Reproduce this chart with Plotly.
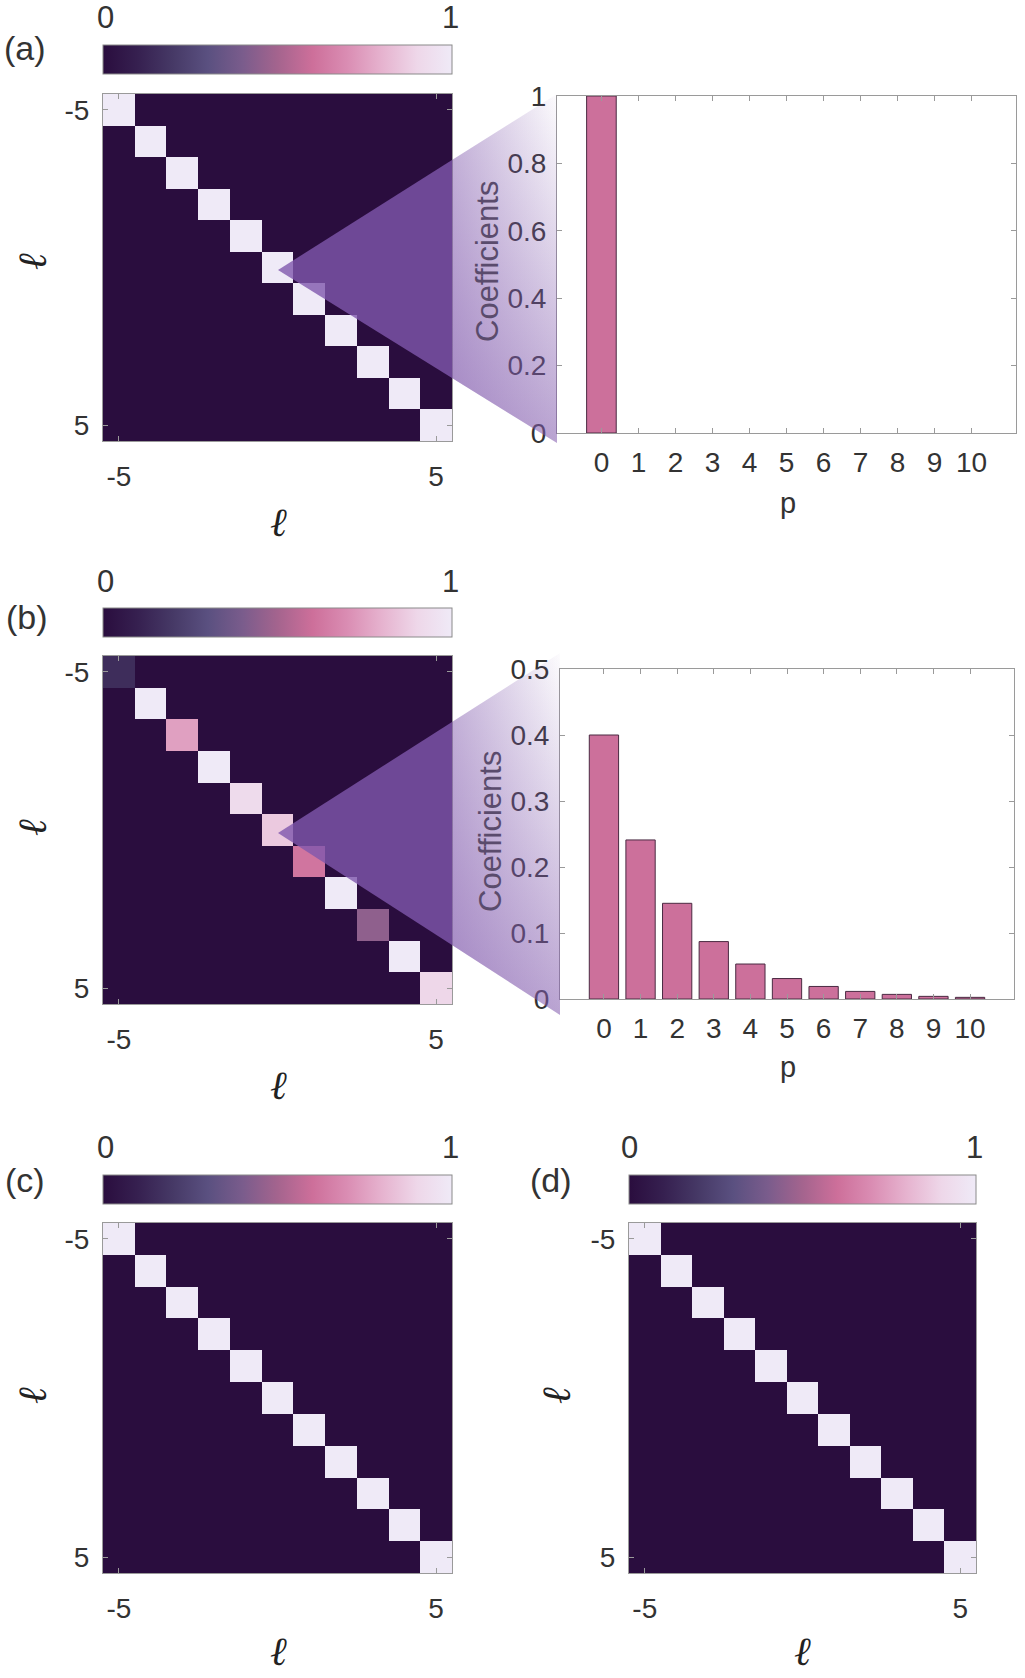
import plotly.graph_objects as go

W, H = 1025, 1678

# ---------------- data ----------------
ell = [-5, -4, -3, -2, -1, 0, 1, 2, 3, 4, 5]
ell_ticks = [-5, 5]
ell_ticktext = ["-5", "5"]

diag_a = [1.0, 1.0, 1.0, 1.0, 1.0, 1.0, 1.0, 1.0, 1.0, 1.0, 1.0]
diag_b = [0.15, 1.0, 0.75, 1.0, 0.92, 0.86, 0.62, 1.0, 0.45, 1.0, 0.9]
diag_c = [1.0, 1.0, 1.0, 1.0, 1.0, 1.0, 1.0, 1.0, 1.0, 1.0, 1.0]
diag_d = [1.0, 1.0, 1.0, 1.0, 1.0, 1.0, 1.0, 1.0, 1.0, 1.0, 1.0]

p_vals = [0, 1, 2, 3, 4, 5, 6, 7, 8, 9, 10]
coef_a = [1.0, 0, 0, 0, 0, 0, 0, 0, 0, 0, 0]
coef_b = [0.400, 0.241, 0.145, 0.087, 0.053, 0.031, 0.019, 0.0115, 0.007, 0.004, 0.0025]

cscale = [
    [0.0, "#2a0d3e"], [0.1, "#362050"], [0.2, "#463966"], [0.3, "#5a5080"],
    [0.4, "#7a5c8c"], [0.5, "#a4648e"], [0.6, "#cd6f9a"], [0.7, "#da8db3"],
    [0.8, "#e6b3cf"], [0.9, "#eed7e9"], [1.0, "#efeaf7"],
]

FONT = "Arial, Liberation Sans, sans-serif"
TXT = "#333333"
AX = "#9a9a9a"


def dxd(a, b):
    return [a / W, b / W]


def dyd(top, bottom):
    return [1 - bottom / H, 1 - top / H]


def px(x):
    return x / W


def py(y):
    return 1 - y / H


def matrix(diag):
    return [[diag[i] if i == j else 0.0 for j in range(len(ell))] for i in range(len(ell))]


fig = go.Figure()

# heatmaps: (axis suffix, diag, colorbar box)
heat = [
    ("", diag_a, (103, 45, 349)),
    ("2", diag_b, (103, 608, 349)),
    ("3", diag_c, (103, 1175, 349)),
    ("4", diag_d, (629, 1175, 347)),
]
for sfx, dg, (cx, cy, cl) in heat:
    fig.add_trace(go.Heatmap(
        z=matrix(dg), x=ell, y=ell, zmin=0, zmax=1, colorscale=cscale,
        xaxis="x" + sfx, yaxis="y" + sfx, hoverinfo="skip",
        showscale=True,
        colorbar=dict(orientation="h", x=px(cx), xanchor="left", y=py(cy), yanchor="top",
                      len=cl, lenmode="pixels", thickness=29, thicknessmode="pixels",
                      xpad=0, ypad=0, outlinewidth=1, outlinecolor="#8a8a8a",
                      showticklabels=False, ticks=""),
    ))

bar_color = "#cc709b"
for sfx, vals in (("5", coef_a), ("6", coef_b)):
    fig.add_trace(go.Bar(
        x=p_vals, y=vals, width=0.8, xaxis="x" + sfx, yaxis="y" + sfx,
        marker=dict(color=bar_color,
                    line=dict(color="#4a2a42", width=[1 if v > 0 else 0 for v in vals])),
        showlegend=False, hoverinfo="skip",
    ))

# ---------- decorative zoom wedges (overlay in pixel space) ----------
WC = "128,88,172"


def wedge(apex, xe, up_e, lo_e, xr, up_r, lo_r):
    # part over the heatmap: uniform
    fig.add_trace(go.Scatter(
        x=[apex[0], xe, xe, apex[0]], y=[apex[1], up_e, lo_e, apex[1]],
        mode="lines", line=dict(width=0), fill="toself",
        fillcolor=f"rgba({WC},0.8)", xaxis="x7", yaxis="y7",
        showlegend=False, hoverinfo="skip"))
    xs = [xe, xr, xr, xe, xe]
    ys = [up_e, up_r, lo_r, lo_e, up_e]
    top, bot = min(up_e, up_r), max(lo_e, lo_r)
    # part over white: vertical fade
    fig.add_trace(go.Scatter(
        x=xs, y=ys, mode="lines", line=dict(width=0), fill="toself",
        fillgradient=dict(type="vertical", start=top, stop=bot,
                          colorscale=[[0, f"rgba({WC},0.02)"], [0.5, f"rgba({WC},0.28)"],
                                      [1, f"rgba({WC},0.55)"]]),
        xaxis="x7", yaxis="y7", showlegend=False, hoverinfo="skip"))
    # plus horizontal fade toward the bar chart
    fig.add_trace(go.Scatter(
        x=xs, y=ys, mode="lines", line=dict(width=0), fill="toself",
        fillgradient=dict(type="horizontal", start=xe, stop=xr,
                          colorscale=[[0, f"rgba({WC},0.42)"], [1, f"rgba({WC},0.0)"]]),
        xaxis="x7", yaxis="y7", showlegend=False, hoverinfo="skip"))


wedge((278, 270), 452, 160, 378, 557, 94, 443)
wedge((278, 833), 452, 722, 945, 560, 653, 1015)

# ---------------- layout ----------------
tickfont = dict(family=FONT, size=28, color=TXT)


def heat_axes(xd, yd, sfx):
    xa = dict(domain=xd, range=[-5.5, 5.5], tickvals=ell_ticks, ticktext=ell_ticktext,
              ticks="inside", ticklen=5, tickcolor=AX, mirror="ticks", showline=True,
              linecolor=AX, linewidth=1, showgrid=False, zeroline=False,
              tickfont=tickfont, ticklabelstandoff=10, anchor="y" + sfx, fixedrange=True)
    ya = dict(domain=yd, range=[5.5, -5.5], tickvals=ell_ticks, ticktext=ell_ticktext,
              ticks="inside", ticklen=5, tickcolor=AX, mirror="ticks", showline=True,
              linecolor=AX, linewidth=1, showgrid=False, zeroline=False,
              tickfont=tickfont, ticklabelstandoff=7, anchor="x" + sfx, fixedrange=True)
    return xa, ya


def bar_axes(xd, yd, sfx, ymax, dt):
    xa = dict(domain=xd, range=[-1.2, 11.2], tickvals=p_vals, ticks="inside", ticklen=5,
              tickcolor=AX, mirror="ticks", showline=True, linecolor=AX, linewidth=1,
              showgrid=False, zeroline=False, tickfont=tickfont, ticklabelstandoff=4,
              anchor="y" + sfx, fixedrange=True)
    ya = dict(domain=yd, range=[0, ymax], dtick=dt, tick0=0, ticks="inside", ticklen=5,
              tickcolor=AX, mirror="ticks", showline=True, linecolor=AX, linewidth=1,
              showgrid=False, zeroline=False, tickfont=tickfont, ticklabelstandoff=4,
              anchor="x" + sfx, fixedrange=True)
    return xa, ya


lay = {}
for sfx, xd, yd in (("", dxd(103, 452), dyd(94, 441)),
                    ("2", dxd(103, 452), dyd(656, 1004)),
                    ("3", dxd(103, 452), dyd(1223, 1573)),
                    ("4", dxd(629, 976), dyd(1223, 1573))):
    xa, ya = heat_axes(xd, yd, sfx)
    lay["xaxis" + sfx] = xa
    lay["yaxis" + sfx] = ya

xa, ya = bar_axes(dxd(557, 1016), dyd(96, 433), "5", 1.0, 0.2)
lay["xaxis5"], lay["yaxis5"] = xa, ya
xa, ya = bar_axes(dxd(560, 1014), dyd(669, 999), "6", 0.5, 0.1)
lay["xaxis6"], lay["yaxis6"] = xa, ya

lay["xaxis7"] = dict(domain=[0, 1], range=[0, W], visible=False, anchor="y7", fixedrange=True)
lay["yaxis7"] = dict(domain=[0, 1], range=[H, 0], visible=False, anchor="x7", fixedrange=True)

ann = []


def text(x, y, s, size=28, color=TXT, angle=0, fam=FONT):
    ann.append(dict(x=px(x), y=py(y), xref="paper", yref="paper", text=s, showarrow=False,
                    xanchor="center", yanchor="middle", textangle=angle,
                    font=dict(family=fam, size=size, color=color)))


# panel labels
text(25, 48, "(a)", 34)
text(27, 617, "(b)", 34)
text(25, 1180, "(c)", 34)
text(551, 1180, "(d)", 34)
# colorbar labels
for (x0, x1, y) in ((105, 450, 17), (105, 450, 581), (105, 450, 1147), (629, 974, 1147)):
    text(x0, y, "0", 31)
    text(x1, y, "1", 31)
# ell axis titles
ELLF = "DejaVu Serif, serif"
for (x, y) in ((278, 522), (278, 1085), (278, 1651), (802, 1651)):
    text(x, y, "<i>ℓ</i>", 40, "#222222", 0, ELLF)
for (x, y) in ((32, 262), (32, 828), (32, 1396), (556, 1396)):
    text(x, y, "<i>ℓ</i>", 40, "#222222", -90, ELLF)
# bar chart titles
text(487, 262, "Coefficients", 31, "#5a4b6c", -90)
text(490, 832, "Coefficients", 31, "#5a4b6c", -90)
text(788, 503, "p", 29)
text(788, 1067, "p", 29)

fig.update_layout(
    width=W, height=H, margin=dict(l=0, r=0, t=0, b=0, pad=0, autoexpand=False),
    paper_bgcolor="white", plot_bgcolor="rgba(0,0,0,0)",
    showlegend=False, annotations=ann, font=dict(family=FONT, color=TXT),
    **lay,
)

fig.write_html("out.html")
